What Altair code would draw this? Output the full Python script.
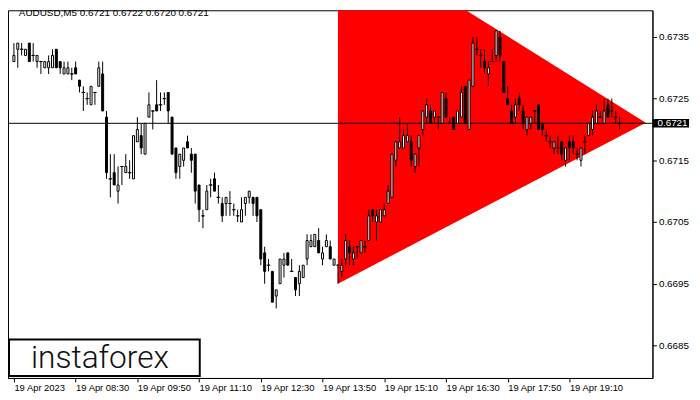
import altair as alt
import pandas as pd

# ---- data (AUDUSD M5, 19 Apr 2023) ----
OPEN = [
 0.6731,0.6733,0.6733,0.6732,0.6734,0.6732,0.6731,0.6731,0.6730,0.6730,
 0.6730,0.6733,0.6731,0.6729,0.6729,0.6729,0.6730,0.6728,0.6726,0.6725,
 0.6724,0.6726,0.6727,0.6729,0.6722,0.6712,0.6713,0.6710,0.6714,0.6713,
 0.6713,0.6712,0.6718,0.6719,0.6716,0.6722,0.6723,0.6724,0.6724,0.6725,
 0.6726,0.6722,0.6717,0.6714,0.6715,0.6718,0.6716,0.6716,0.6711,0.6706,
 0.6707,0.6711,0.6712,0.6709,0.6708,0.6708,0.6708,0.6707,0.6706,0.6705,
 0.6708,0.6709,0.6709,0.6709,0.6707,0.6700,0.6698,0.6697,0.6693,0.6695,
 0.6698,0.6700,0.6697,0.6696,0.6695,0.6696,0.6699,0.6701,0.6701,0.6702,
 0.6699,0.6701,0.6701,0.6698,0.6698,0.6697,0.6699,0.6701,0.6699,0.6701,
 0.6700,0.6701,0.6702,0.6707,0.6705,0.6705,0.6706,0.6708,0.6709,0.6715,
 0.6717,0.6717,0.6718,0.6718,0.6714,0.6717,0.6720,0.6722,0.6723,0.6722,
 0.6722,0.6721,0.6725,0.6721,0.6722,0.6721,0.6722,0.6727,0.6720,0.6727,
 0.6733,0.6732,0.6731,0.6729,0.6731,0.6732,0.6735,0.6731,0.6725,0.6723,
 0.6722,0.6725,0.6723,0.6720,0.6721,0.6723,0.6724,0.6721,0.6719,0.6718,
 0.6717,0.6717,0.6718,0.6715,0.6718,0.6718,0.6716,0.6715,0.6718,0.6719,
 0.6720,0.6721,0.6722,0.6721,0.6724,0.6723,0.6722,0.6721]
HIGH = [
 0.6734,0.6734,0.6734,0.6733,0.6734,0.6734,0.6732,0.6731,0.6731,0.6732,
 0.6733,0.6733,0.6731,0.6731,0.6731,0.6730,0.6731,0.6728,0.6727,0.6726,
 0.6727,0.6726,0.6731,0.6731,0.6723,0.6716,0.6716,0.6714,0.6714,0.6716,
 0.6715,0.6719,0.6722,0.6721,0.6721,0.6726,0.6723,0.6728,0.6726,0.6726,
 0.6726,0.6722,0.6717,0.6716,0.6717,0.6719,0.6717,0.6716,0.6711,0.6707,
 0.6711,0.6712,0.6713,0.6711,0.6709,0.6709,0.6710,0.6708,0.6707,0.6709,
 0.6709,0.6710,0.6709,0.6709,0.6707,0.6701,0.6699,0.6697,0.6694,0.6699,
 0.6700,0.6700,0.6699,0.6696,0.6698,0.6698,0.6703,0.6703,0.6703,0.6704,
 0.6701,0.6703,0.6702,0.6699,0.6698,0.6699,0.6703,0.6702,0.6701,0.6701,
 0.6702,0.6702,0.6707,0.6707,0.6707,0.6707,0.6708,0.6711,0.6716,0.6718,
 0.6722,0.6720,0.6721,0.6719,0.6716,0.6719,0.6723,0.6725,0.6724,0.6723,
 0.6722,0.6726,0.6726,0.6722,0.6722,0.6723,0.6727,0.6727,0.6728,0.6735,
 0.6735,0.6733,0.6733,0.6731,0.6733,0.6736,0.6736,0.6731,0.6727,0.6724,
 0.6725,0.6726,0.6724,0.6722,0.6722,0.6723,0.6724,0.6721,0.6720,0.6719,
 0.6718,0.6719,0.6718,0.6717,0.6719,0.6719,0.6717,0.6717,0.6719,0.6721,
 0.6723,0.6724,0.6723,0.6725,0.6725,0.6725,0.6723,0.6722]
LOW = [
 0.6731,0.6730,0.6732,0.6732,0.6731,0.6731,0.6730,0.6729,0.6730,0.6729,
 0.6730,0.6730,0.6729,0.6729,0.6729,0.6728,0.6729,0.6726,0.6723,0.6724,
 0.6724,0.6724,0.6727,0.6723,0.6712,0.6709,0.6711,0.6708,0.6711,0.6713,
 0.6712,0.6712,0.6718,0.6716,0.6716,0.6722,0.6720,0.6723,0.6723,0.6724,
 0.6721,0.6716,0.6712,0.6712,0.6714,0.6717,0.6713,0.6708,0.6705,0.6704,
 0.6707,0.6709,0.6710,0.6708,0.6705,0.6706,0.6706,0.6706,0.6705,0.6705,
 0.6706,0.6708,0.6706,0.6705,0.6698,0.6695,0.6697,0.6692,0.6691,0.6695,
 0.6696,0.6698,0.6697,0.6693,0.6693,0.6696,0.6698,0.6701,0.6701,0.6700,
 0.6698,0.6701,0.6699,0.6698,0.6695,0.6696,0.6698,0.6698,0.6698,0.6699,
 0.6700,0.6700,0.6702,0.6705,0.6702,0.6705,0.6706,0.6708,0.6709,0.6714,
 0.6717,0.6717,0.6718,0.6714,0.6713,0.6714,0.6719,0.6721,0.6721,0.6721,
 0.6720,0.6721,0.6722,0.6721,0.6720,0.6721,0.6722,0.6721,0.6720,0.6727,
 0.6732,0.6730,0.6729,0.6727,0.6731,0.6731,0.6731,0.6726,0.6724,0.6721,
 0.6721,0.6723,0.6720,0.6719,0.6720,0.6721,0.6720,0.6719,0.6718,0.6717,
 0.6716,0.6716,0.6715,0.6714,0.6715,0.6716,0.6715,0.6714,0.6716,0.6719,
 0.6719,0.6721,0.6722,0.6721,0.6722,0.6722,0.6721,0.6720]
CLOSE = [
 0.6732,0.6734,0.6733,0.6733,0.6731,0.6732,0.6732,0.6731,0.6731,0.6731,
 0.6732,0.6730,0.6730,0.6730,0.6730,0.6729,0.6729,0.6727,0.6726,0.6725,
 0.6727,0.6726,0.6730,0.6723,0.6713,0.6712,0.6711,0.6711,0.6714,0.6714,
 0.6713,0.6719,0.6720,0.6717,0.6721,0.6724,0.6723,0.6723,0.6724,0.6725,
 0.6723,0.6716,0.6713,0.6716,0.6717,0.6717,0.6715,0.6710,0.6707,0.6706,
 0.6710,0.6711,0.6710,0.6709,0.6706,0.6709,0.6708,0.6707,0.6706,0.6707,
 0.6709,0.6710,0.6708,0.6706,0.6699,0.6697,0.6698,0.6692,0.6694,0.6699,
 0.6699,0.6698,0.6697,0.6694,0.6697,0.6698,0.6702,0.6702,0.6703,0.6700,
 0.6700,0.6702,0.6699,0.6699,0.6698,0.6698,0.6702,0.6700,0.6700,0.6701,
 0.6702,0.6701,0.6706,0.6706,0.6706,0.6707,0.6707,0.6710,0.6716,0.6718,
 0.6718,0.6719,0.6719,0.6715,0.6716,0.6719,0.6723,0.6724,0.6721,0.6723,
 0.6722,0.6726,0.6722,0.6721,0.6720,0.6723,0.6726,0.6721,0.6728,0.6734,
 0.6733,0.6732,0.6730,0.6730,0.6731,0.6736,0.6732,0.6726,0.6724,0.6721,
 0.6724,0.6724,0.6721,0.6722,0.6722,0.6723,0.6720,0.6720,0.6719,0.6718,
 0.6718,0.6717,0.6716,0.6717,0.6717,0.6717,0.6716,0.6717,0.6718,0.6721,
 0.6722,0.6723,0.6722,0.6723,0.6722,0.6723,0.6722,0.6721]

TICK_INDEX = [0, 16, 32, 48, 64, 80, 96, 112, 128, 144]
TICK_LABELS = ["19 Apr 2023", "19 Apr 08:30", "19 Apr 09:50", "19 Apr 11:10",
               "19 Apr 12:30", "19 Apr 13:50", "19 Apr 15:10", "19 Apr 16:30",
               "19 Apr 17:50", "19 Apr 19:10"]
PRICE_TICKS = [0.6685, 0.6695, 0.6705, 0.6715, 0.6725, 0.6735]
LAST_PRICE = 0.6721

# triangle pattern: left edge at bar 84, apex at right edge
TRI_X = [84, 163.8]
TRI_TOP = [0.67523, 0.67211]
TRI_BOTTOM = [0.6695, 0.67211]

TITLE = "AUDUSD,M5  0.6721 0.6722 0.6720 0.6721"

# ---- build ----
n = len(OPEN)
df = pd.DataFrame({"i": list(range(n)), "open": OPEN, "high": HIGH,
                   "low": LOW, "close": CLOSE})
df["fill"] = ["white" if c >= o else "black" for o, c in zip(OPEN, CLOSE)]
doji = df[df["open"] == df["close"]]

FONT = "Liberation Sans"
xscale = alt.Scale(domain=[-0.25, 164.25], nice=False, zero=False)
yscale = alt.Scale(domain=[0.667972, 0.673932], nice=False, zero=False)

label_arr = "[" + ",".join("'" + t + "'" for t in TICK_LABELS) + "]"
xaxis = alt.Axis(values=TICK_INDEX, labelExpr=label_arr + "[round(datum.value/16)]",
                 labelAlign="left", labelFont=FONT, labelFontSize=9.5,
                 labelColor="black", tickColor="black", domainColor="black",
                 tickSize=4, labelPadding=1, grid=False, title=None,
                 labelOverlap=False, labelFlush=False)
yaxis = alt.Axis(orient="right", values=PRICE_TICKS, format=".4f", grid=False,
                 tickSize=4, tickColor="black", domainColor="black",
                 labelColor="black", labelFont=FONT, labelFontSize=10,
                 labelPadding=2, title=None)

def X(field):
    return alt.X(field, type="quantitative", scale=xscale, axis=xaxis)

def Y(field):
    return alt.Y(field, type="quantitative", scale=yscale, axis=yaxis)

tri_df = pd.DataFrame({"i": TRI_X, "top": TRI_TOP, "bot": TRI_BOTTOM})
tri = alt.Chart(tri_df).mark_area(color="#FF0000", opacity=1, clip=True).encode(
    x=X("i"), y=Y("top"), y2="bot")

hline = alt.Chart(pd.DataFrame({"p": [LAST_PRICE]})).mark_rule(
    color="black", strokeWidth=1).encode(y=Y("p"))

wicks = alt.Chart(df).mark_rule(color="black", strokeWidth=1).encode(
    x=X("i"), y=Y("low"), y2="high")

bodies = alt.Chart(df).mark_bar(size=2, stroke="black", strokeWidth=1).encode(
    x=X("i"), y=Y("open"), y2="close", fill=alt.Fill("fill:N", scale=None))

dojis = alt.Chart(doji).mark_tick(orient="horizontal", size=4, thickness=1,
                                  color="black").encode(x=X("i"), y=Y("close"))

marker_df = pd.DataFrame({"p": [LAST_PRICE], "top": [0.67217], "bot": [0.67203],
                          "label": ["0.6721"]})
marker_box = alt.Chart(marker_df).mark_rect(color="black", clip=False).encode(
    x=alt.value(652), x2=alt.value(689), y=Y("top"), y2="bot")
marker_text = alt.Chart(marker_df).mark_text(
    color="white", font=FONT, fontSize=10, align="left", baseline="middle",
    clip=False).encode(x=alt.value(657), y=Y("p"), text="label:N")

title = alt.Chart(pd.DataFrame({"t": [TITLE]})).mark_text(
    font=FONT, fontSize=10, align="left", baseline="middle", color="black").encode(
    x=alt.value(11), y=alt.value(3), text="t:N")

logo_box = alt.Chart(pd.DataFrame({"a": [1]})).mark_rect(
    fill="white", stroke="black", strokeWidth=2).encode(
    x=alt.value(1), x2=alt.value(194), y=alt.value(333), y2=alt.value(370))
logo_text = alt.Chart(pd.DataFrame({"t": ["instaforex"]})).mark_text(
    font="Roboto", fontWeight=300, fontSize=32, align="center", baseline="middle",
    color="#111111").encode(x=alt.value(93), y=alt.value(352), text="t:N")

chart = alt.layer(tri, hline, wicks, bodies, dojis, marker_box, marker_text,
                  title, logo_box, logo_text).properties(
    width=652, height=372,
    autosize=alt.AutoSizeParams(type="none"),
    padding={"left": 0, "top": 0, "right": 40, "bottom": 22},
    background="white",
).configure_view(stroke="black", strokeWidth=1)

chart.save("out.html", embed_options={"renderer": "svg", "actions": False})
